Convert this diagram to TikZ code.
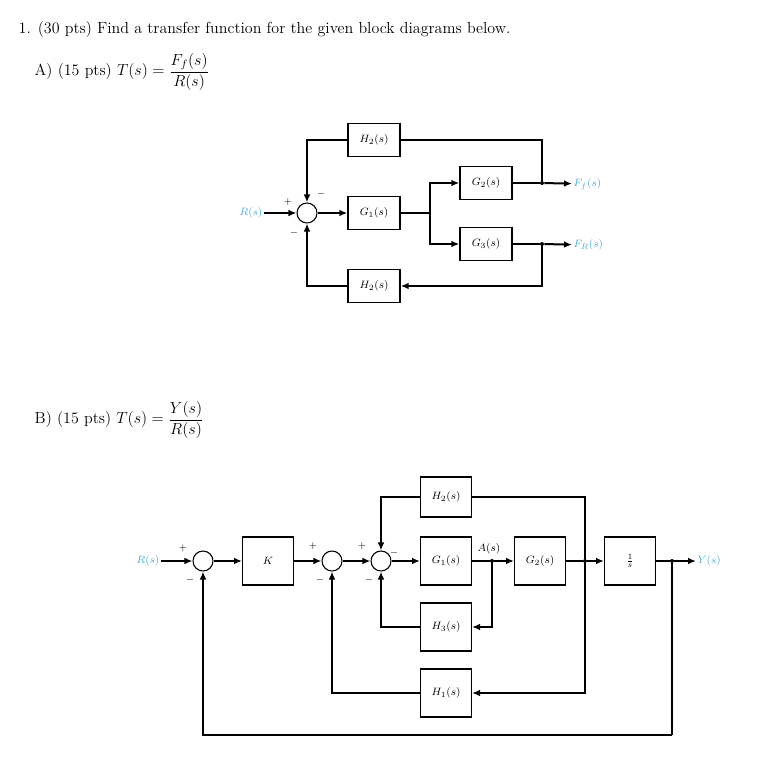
\documentclass[tikz,border=0pt]{standalone}
\usepackage{amsmath}
\usetikzlibrary{arrows.meta}
\definecolor{sigblue}{RGB}{70,170,220}
\begin{document}
\begin{tikzpicture}[x=0.75pt,y=-0.75pt,
  blk/.style={draw,line width=1pt,minimum width=39pt,minimum height=25pt,inner sep=1pt,font=\footnotesize},
  blkb/.style={blk,minimum width=38pt,minimum height=36pt},
  sumc/.style={draw,circle,line width=0.8pt,minimum size=15pt,inner sep=0pt},
  sig/.style={line width=1.5pt,-{Latex[length=6pt,width=5pt]}},
  ln/.style={line width=1.5pt},
  lab/.style={text=sigblue,font=\footnotesize,inner sep=1pt},
  sgn/.style={font=\scriptsize,inner sep=0pt},
  dot/.style={circle,fill,inner sep=0pt,minimum size=3pt}]
\useasboundingbox (0,0) rectangle (759,781);
\node[anchor=west,font=\large] (title) at (14,30) {1. (30 pts) Find a transfer function for the given block diagrams below.};
\node[anchor=west,font=\large] (qa) at (30,72) {A) (15 pts) $T(s)=\dfrac{F_f(s)}{R(s)}$};
\node[anchor=west,font=\large] (qb) at (30,420) {B) (15 pts) $T(s)=\dfrac{Y(s)}{R(s)}$};
% ---- A ----
\node[sumc] (s1) at (307,213) {};
\node[lab,anchor=east] (Ra) at (264,213) {$R(s)$};
\node[blk] (G1) at (374,213) {$G_1(s)$};
\node[blk] (H2a) at (374,140) {$H_2(s)$};
\node[blk] (G2) at (486,183) {$G_2(s)$};
\node[blk] (G3) at (486,244) {$G_3(s)$};
\node[blk] (H2b) at (374,286) {$H_2(s)$};
\node[lab,anchor=west] (Ff) at (572,184) {$F_f(s)$};
\node[lab,anchor=west] (FR) at (572,245) {$F_R(s)$};
\coordinate (br) at (430,213);
\node[dot] (j1) at (542,183) {};
\node[dot] (j2) at (542,244) {};
\node[sgn] (p1) at (288,202) {$+$};
\node[sgn] (m1) at (321,194) {$-$};
\node[sgn] (m2) at (294,233) {$-$};
\draw[sig] (Ra) -- (s1);
\draw[sig] (s1) -- (G1);
\draw[ln] (G1) -- (br);
\draw[sig] (br) |- (G2);
\draw[sig] (br) |- (G3);
\draw[ln] (G2) -- (j1);
\draw[sig] (j1) -- (Ff);
\draw[ln] (H2a) -| (j1);
\draw[sig] (H2a) -| (s1);
\draw[ln] (G3) -- (j2);
\draw[sig] (j2) -- (FR);
\draw[sig] (j2) |- (H2b);
\draw[sig] (H2b) -| (s1);
% ---- B ----
\node[lab,anchor=east] (Rb) at (161,561) {$R(s)$};
\node[sumc] (b1) at (203,561) {};
\node[blkb] (K) at (268,561) {$K$};
\node[sumc] (b2) at (332,561) {};
\node[sumc] (b3) at (381,561) {};
\node[blkb] (G1b) at (446,561) {$G_1(s)$};
\node[blkb,minimum height=30pt] (H2c) at (446,497) {$H_2(s)$};
\node[blkb] (H3) at (446,627) {$H_3(s)$};
\node[blkb] (H1) at (446,693) {$H_1(s)$};
\node[blkb] (G2b) at (540,561) {$G_2(s)$};
\node[blkb] (I) at (630,561) {$\frac{1}{s}$};
\node[lab,anchor=west] (Y) at (696,561) {$Y(s)$};
\node[font=\footnotesize,inner sep=0pt] (A) at (489,549) {$A(s)$};
\node[dot] (ba) at (492,561) {};
\node[dot] (bh) at (585,561) {};
\node[dot] (by) at (672,561) {};
\coordinate (bot) at (672,735);
\node[sgn] at (183,548) {$+$};
\node[sgn] at (190,580) {$-$};
\node[sgn] at (313,546) {$+$};
\node[sgn] at (320,580) {$-$};
\node[sgn] at (362,546) {$+$};
\node[sgn] at (394,553) {$-$};
\node[sgn] at (369,580) {$-$};
\draw[sig] (Rb) -- (b1);
\draw[sig] (b1) -- (K);
\draw[sig] (K) -- (b2);
\draw[sig] (b2) -- (b3);
\draw[sig] (b3) -- (G1b);
\draw[ln] (G1b) -- (ba);
\draw[sig] (ba) -- (G2b);
\draw[ln] (G2b) -- (bh);
\draw[sig] (bh) -- (I);
\draw[ln] (I) -- (by);
\draw[sig] (by) -- (Y);
\draw[sig] (ba) |- (H3);
\draw[sig] (H3) -| (b3);
\draw[ln] (bh) |- (H2c);
\draw[sig] (H2c) -| (b3);
\draw[sig] (bh) |- (H1);
\draw[sig] (H1) -| (b2);
\draw[ln] (by) -- (bot);
\draw[sig] (bot) -| (b1);
\end{tikzpicture}
\end{document}
